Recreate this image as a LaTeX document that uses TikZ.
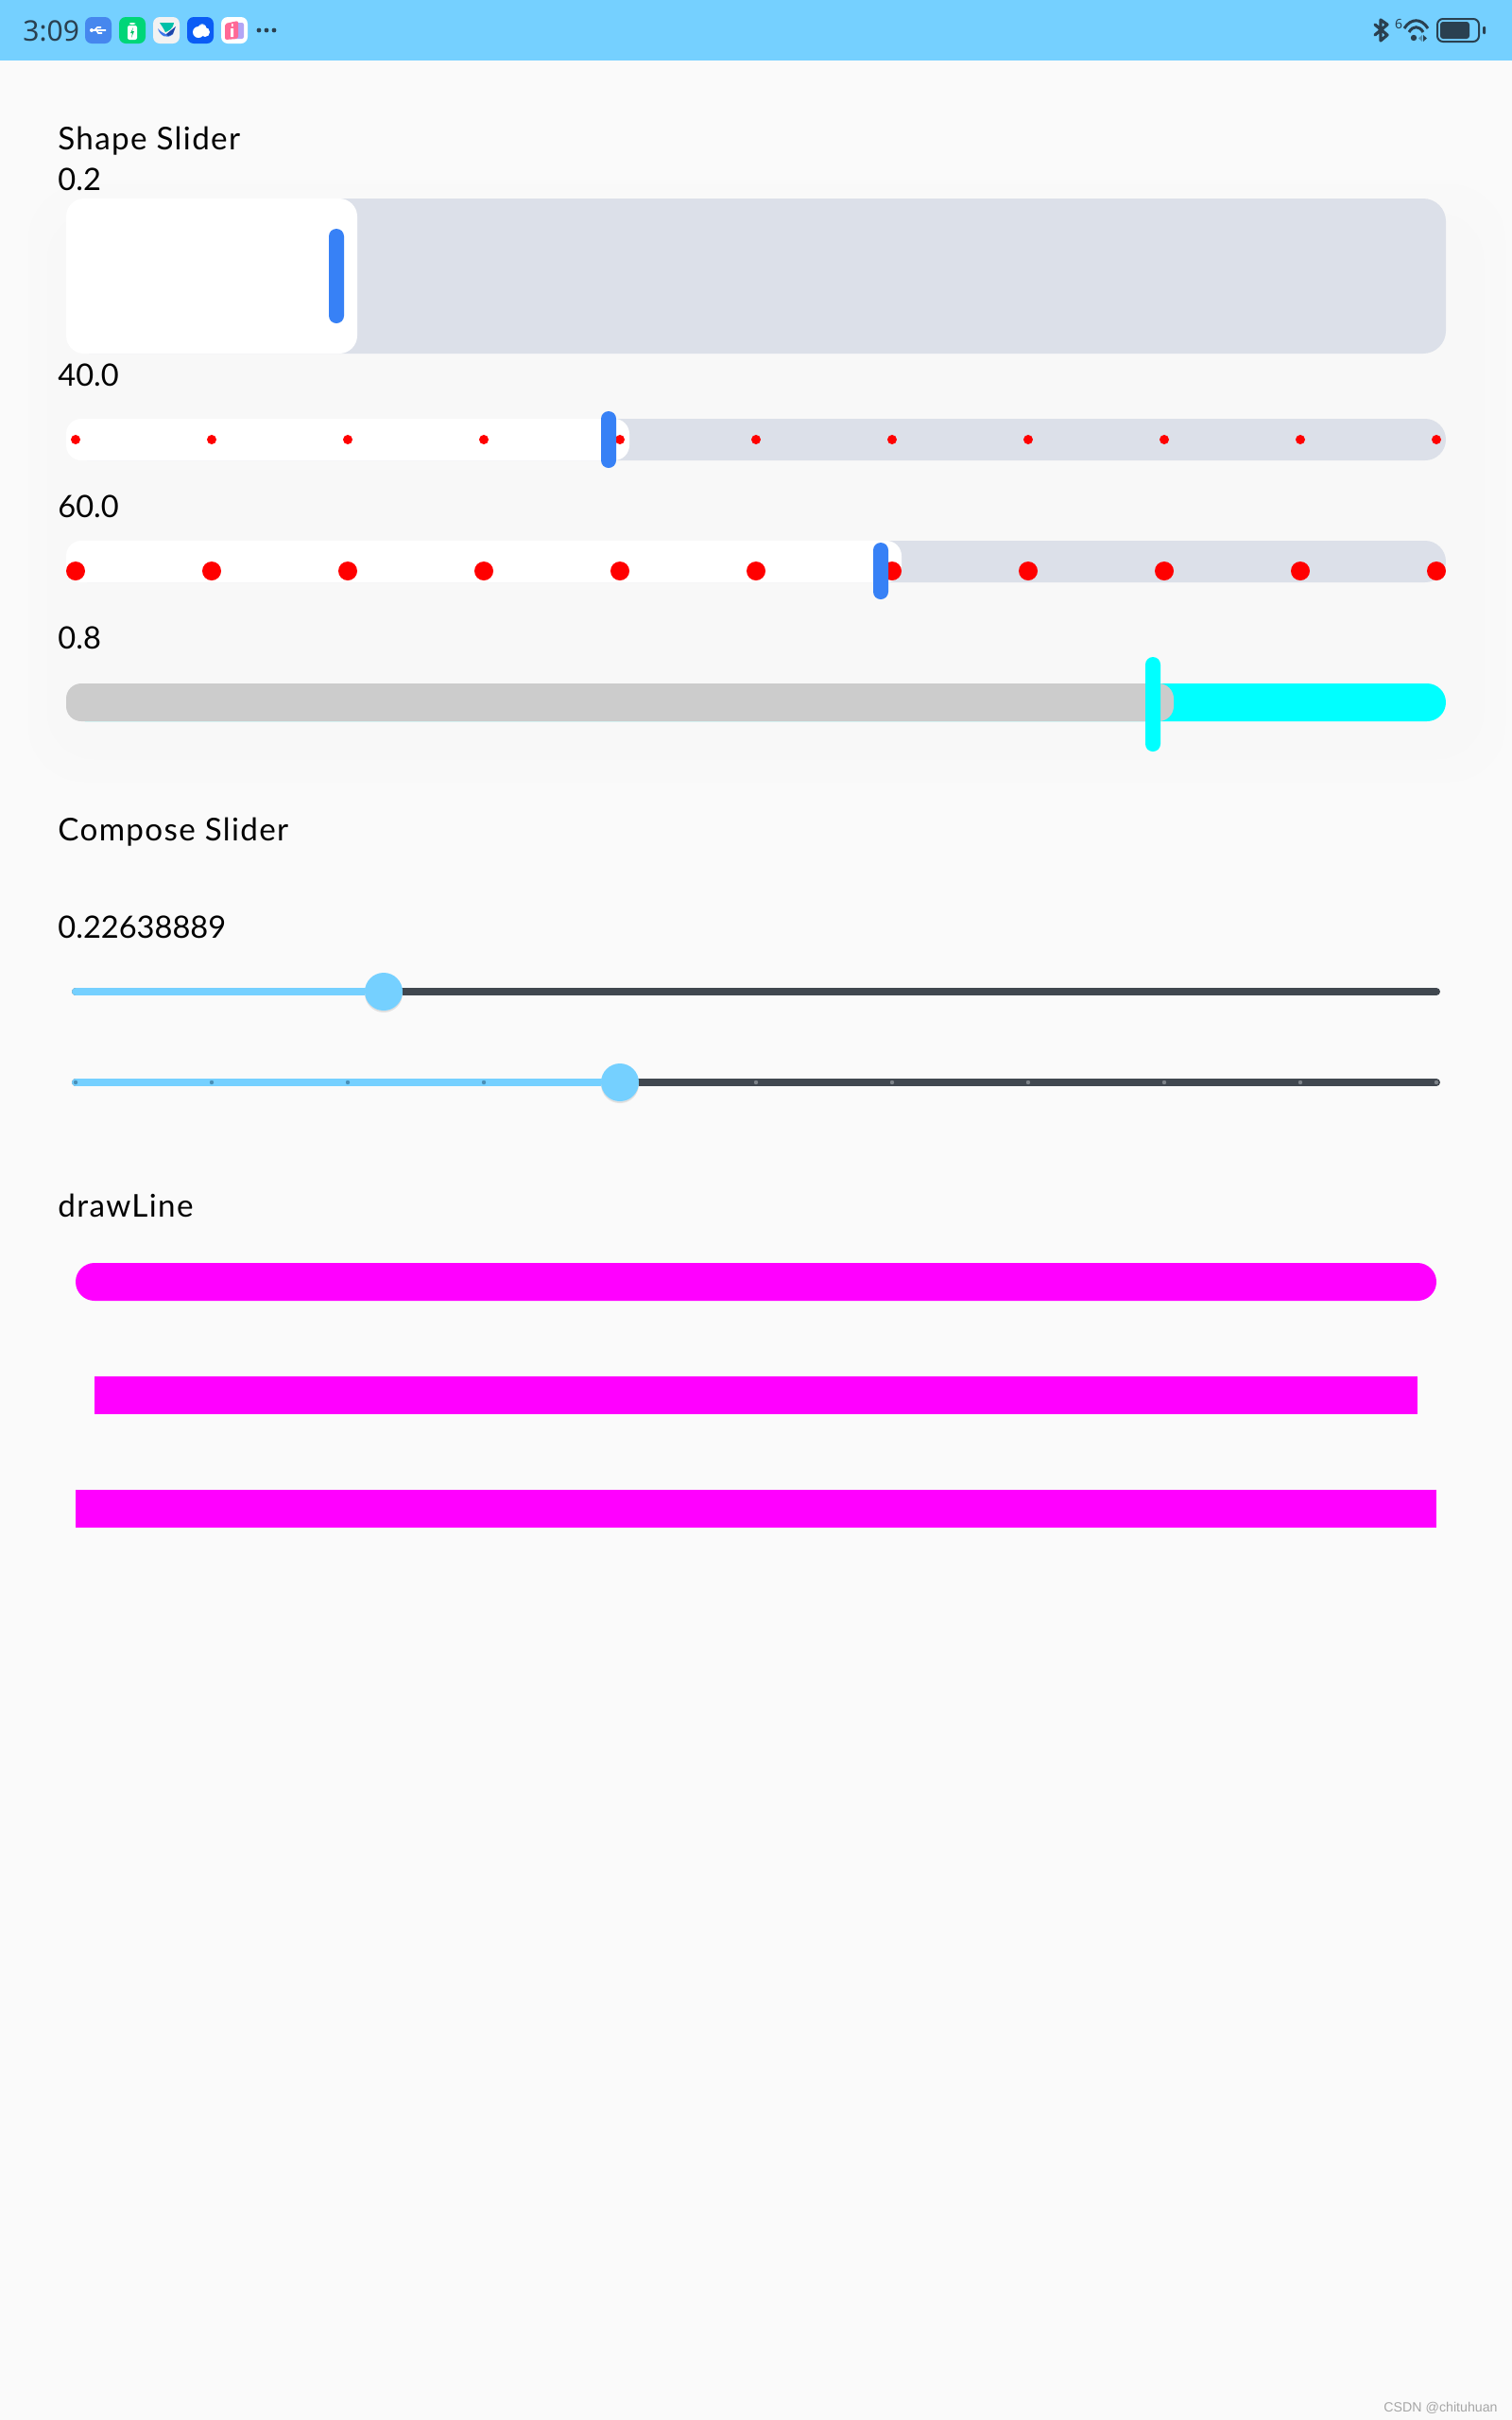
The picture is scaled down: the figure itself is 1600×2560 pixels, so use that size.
\documentclass[tikz,border=0pt]{standalone}
\usepackage{fontspec}
\setmainfont[LetterSpace=4.1]{Lato}
\newfontfamily\numfont{Lato}
\newfontfamily\clockfont{Noto Sans}
\newfontfamily\markfont{Liberation Sans}
\definecolor{pagebg}{HTML}{FAFAFA}
\definecolor{shadea}{HTML}{F9F9F9}
\definecolor{shadeb}{HTML}{F8F8F8}
\definecolor{barbg}{HTML}{75D0FF}
\definecolor{barink}{HTML}{2A4050}
\definecolor{trackbg}{HTML}{DCE0E9}
\definecolor{thumbblue}{HTML}{3781F6}
\definecolor{inkdark}{HTML}{40474F}
\definecolor{tickon}{HTML}{4A90B8}
\definecolor{tickoff}{HTML}{7C8288}
\definecolor{usbblue}{HTML}{4687EE}
\definecolor{battgreen}{HTML}{00D678}
\definecolor{boltgreen}{HTML}{00BE64}
\definecolor{birdbg}{HTML}{F2F2F2}
\definecolor{birdteal}{HTML}{00C0A8}
\definecolor{birdblue}{HTML}{3E78EB}
\definecolor{birdnavy}{HTML}{1D46AA}
\definecolor{cloudblue}{HTML}{0B5CF5}
\definecolor{sunblue}{HTML}{96BEFA}
\definecolor{bookpink}{HTML}{FF6996}
\definecolor{bookviolet}{HTML}{B2A5F5}
\definecolor{purecyan}{HTML}{00FFFF}
\definecolor{puremagenta}{HTML}{FF00FF}
\definecolor{restgray}{HTML}{CCCCCC}
\begin{document}
\begin{tikzpicture}[x=.5pt,y=-.5pt,
    label/.style={anchor=base west,inner sep=0pt,font=\fontsize{16.6}{20}\selectfont},
    valuelabel/.style={label,font=\numfont\fontsize{16.3}{20}\selectfont},
    track/.style={fill=trackbg,rounded corners=11pt},
    active/.style={fill=white,rounded corners=8pt},
    grip/.style={fill=thumbblue,rounded corners=4pt},
    dot/.style={fill=red},
    knobshadow/.style={fill=black!12},
    appicon/.style={rounded corners=3.5pt}]
  \useasboundingbox (0,0) rectangle (1600,2560);
  \fill[pagebg] (0,0) rectangle (1600,2560);
  % status bar
  \fill[barbg] (0,0) rectangle (1600,64);
  \path node[anchor=base west,inner sep=0pt,text=barink,font=\clockfont\fontsize{15}{18}\selectfont] (clock) at (24,43) {3:09};
  \fill[appicon,fill=usbblue] (90,18) rectangle (118,46);
  \draw[white,line width=.8pt] (96,32) -- (112,32) (100,32) -- (103,29) -- (107,29) (102,32) -- (104,35) -- (108,35);
  \fill[white] (97,32) circle[radius=2];
  \fill[appicon,fill=battgreen] (126,18) rectangle (154,46);
  \fill[white,rounded corners=1pt] (135,27) rectangle (145,42) (137,24) rectangle (143,26);
  \fill[boltgreen] (141,29) -- (138,35) -- (140,35) -- (139,40) -- (142,33) -- (140,33) -- cycle;
  \fill[appicon,fill=birdbg] (162,18) rectangle (190,46);
  \fill[birdteal] (169,24) -- (184,24) .. controls (183,31) and (178,33) .. (175,34) .. controls (173,30) and (171,27) .. (169,24);
  \fill[birdblue] (167,30) .. controls (169,38) and (177,42) .. (183,36) .. controls (178,38) and (172,36) .. (167,30);
  \fill[birdnavy] (176,36) -- (186,28) -- (183,36) -- (178,38) -- cycle;
  \fill[appicon,fill=cloudblue] (198,18) rectangle (226,46);
  \fill[sunblue] (214,29) circle[radius=4];
  \fill[white] (210,34) circle[radius=6] (217,34) circle[radius=5] (214,31) circle[radius=5];
  \fill[appicon,fill=white] (234,18) rectangle (262,46);
  \fill[bookviolet,rounded corners=1pt] (248,24) rectangle (258,41);
  \fill[bookpink,rounded corners=1pt] (238,25) -- (252,22) -- (252,41) -- (238,42) -- cycle;
  \fill[white] (244,30) rectangle (247,39) (245,25) rectangle (246.5,28);
  \foreach \x in {274,282,290}
    \fill[barink] (\x,32) circle[radius=2.4];
  \draw[barink,line width=1.6pt,line cap=round,line join=round] (1455,26) -- (1468,37) -- (1461,43) -- (1461,21) -- (1468,26) -- (1455,37);
  \path node[inner sep=0pt,text=barink,font=\clockfont\bfseries\fontsize{7}{8}\selectfont] (signal) at (1480,25) {6};
  \draw[barink,line width=1.5pt] (1486,30) .. controls (1493,19) and (1504,19) .. (1511,30);
  \draw[barink,line width=1.5pt] (1491,34) .. controls (1495,27) and (1502,27) .. (1506,34);
  \fill[barink] (1496,40) circle[radius=3.2];
  \fill[barink] (1506,37) -- (1510,40.5) -- (1506,44) -- cycle;
  \fill[barink!45!barbg] (1505,37) -- (1501,40.5) -- (1505,44) -- cycle;
  \draw[barink,line width=1pt,rounded corners=3pt] (1521,20) rectangle (1565,44);
  \fill[barink,rounded corners=1.5pt] (1524,23) rectangle (1555,41);
  \fill[barink,rounded corners=.5pt] (1569,28) rectangle (1572,36);
  % soft shadow under the sliders
  \fill[shadea,rounded corners=30pt] (30,195) rectangle (1593,827);
  \fill[shadeb,rounded corners=25pt] (50,225) rectangle (1570,803);
  % shape sliders
  \path node[label] (shapetitle) at (61,158) {Shape Slider}
    node[valuelabel] (valuea) at (61,201) {0.2}
    node[valuelabel] (valueb) at (61,408) {40.0}
    node[valuelabel] (valuec) at (61,547) {60.0}
    node[valuelabel] (valued) at (61,686) {0.8};
  \fill[track,rounded corners=12pt] (70,210) rectangle (1530,374);
  \fill[active,rounded corners=9.5pt] (70,210) rectangle (378,374);
  \fill[grip] (348,242) rectangle (364,342);
  \fill[track] (70,443) rectangle (1530,487);
  \fill[active] (70,443) rectangle (666,487);
  \foreach \x in {80,224,...,1520}
    \fill[dot] (\x,465) circle[radius=5];
  \fill[grip] (636,435) rectangle (652,495);
  \fill[track] (70,572) rectangle (1530,616);
  \fill[active] (70,572) rectangle (954,616);
  \foreach \x in {80,224,...,1520}
    \fill[dot] (\x,604) circle[radius=10];
  \fill[grip] (924,574) rectangle (940,634);
  \fill[purecyan,rounded corners=10pt] (70,723) rectangle (1530,763);
  \fill[restgray,rounded corners=8pt] (70,723) rectangle (1242,763);
  \fill[purecyan,rounded corners=4pt] (1212,695) rectangle (1228,795);
  % compose sliders
  \path node[label] (composetitle) at (61,889) {Compose Slider}
    node[valuelabel] (valuee) at (61,992) {0.22638889};
  \draw[inkdark,line width=4pt,line cap=round] (80,1049) -- (1520,1049);
  \draw[barbg,line width=4pt,line cap=round] (80,1049) -- (406,1049);
  \fill[knobshadow] (406,1051) circle[radius=20];
  \fill[barbg] (406,1049) circle[radius=20];
  \draw[inkdark,line width=4pt,line cap=round] (80,1145) -- (1520,1145);
  \draw[barbg,line width=4pt,line cap=round] (80,1145) -- (656,1145);
  \foreach \x in {80,224,368,512}
    \fill[tickon] (\x,1145) circle[radius=2.2];
  \foreach \x in {800,944,...,1520}
    \fill[tickoff] (\x,1145) circle[radius=2.2];
  \fill[knobshadow] (656,1147) circle[radius=20];
  \fill[barbg] (656,1145) circle[radius=20];
  % lines
  \path node[label] (linetitle) at (61,1287) {drawLine};
  \fill[puremagenta,rounded corners=10pt] (80,1336) rectangle (1520,1376);
  \fill[puremagenta] (100,1456) rectangle (1500,1496);
  \fill[puremagenta] (80,1576) rectangle (1520,1616);
  \path node[anchor=base east,inner sep=0pt,text=black!35,font=\markfont\fontsize{7.1}{9}\selectfont] (watermark) at (1585,2551) {CSDN @chituhuan};
\end{tikzpicture}
\end{document}
